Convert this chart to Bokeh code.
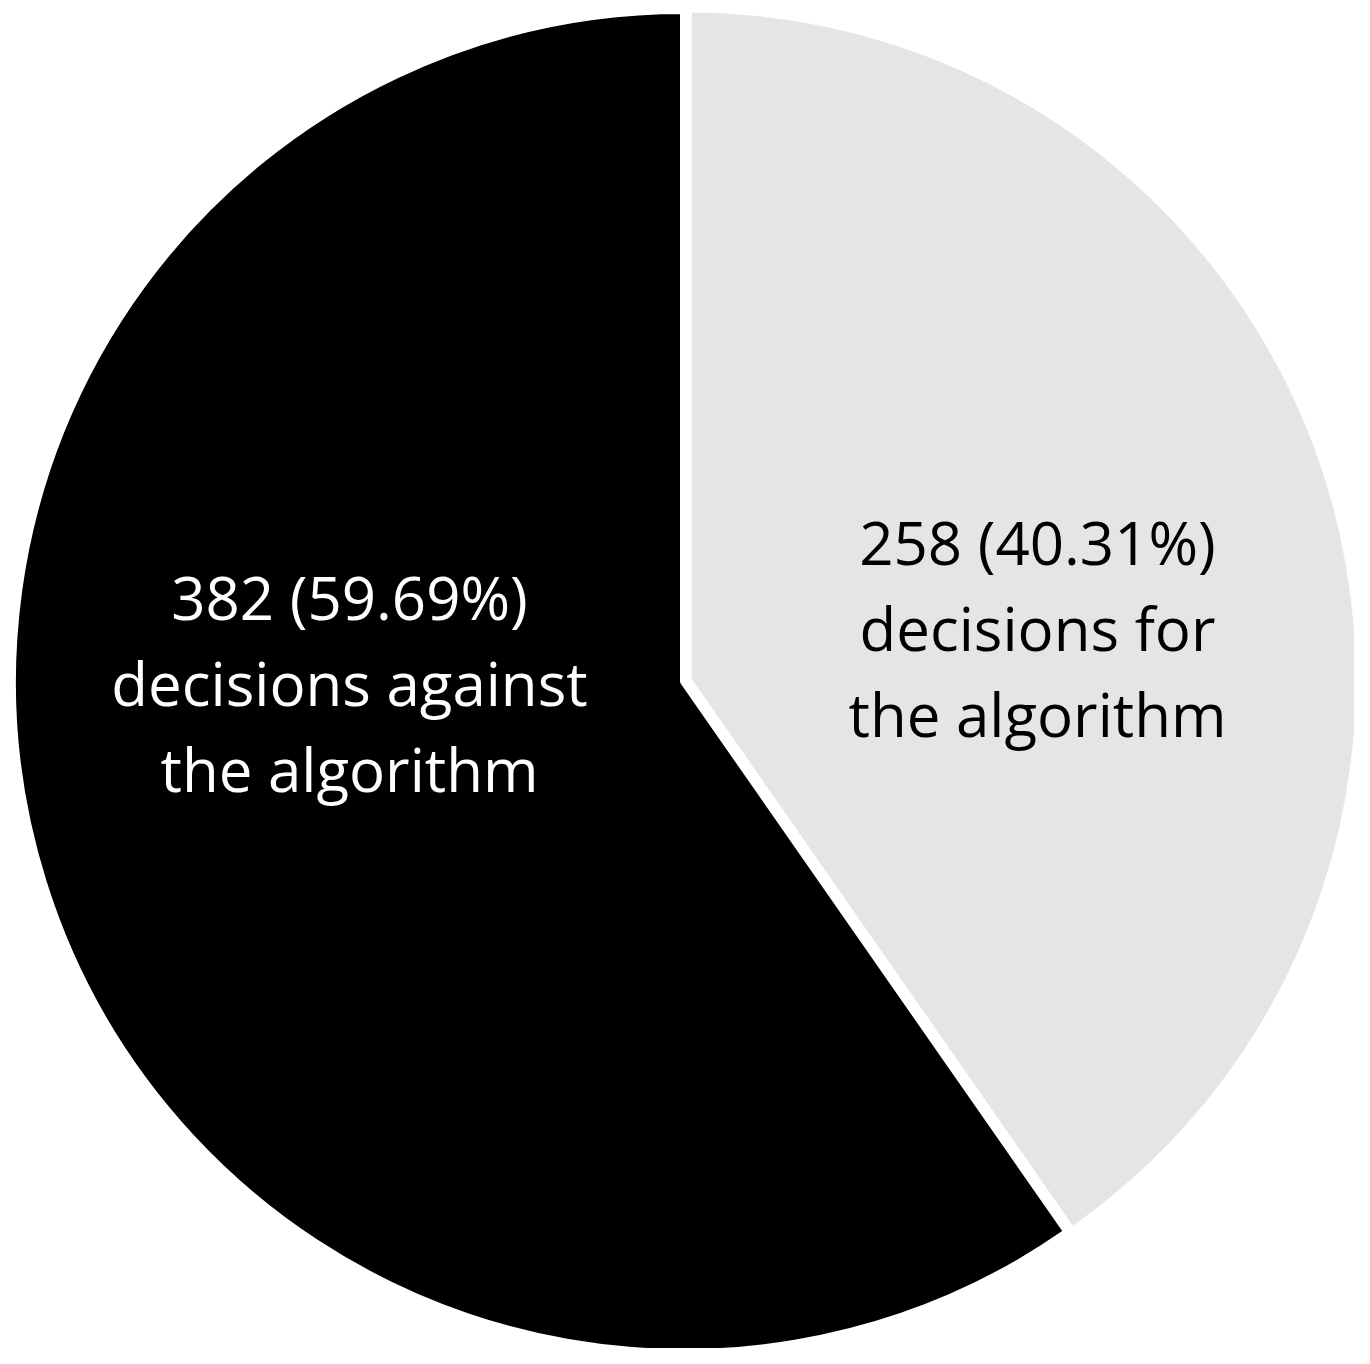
import math
from bokeh.plotting import figure
from bokeh.models import Range1d, ColumnDataSource
from bokeh.core.properties import value
from bokeh.embed import file_html
from bokeh.resources import INLINE

# ---- data ----
categories = ["decisions for the algorithm", "decisions against the algorithm"]
counts = [258, 382]
colors = ["#e5e5e5", "#000000"]
label_colors = ["#000000", "#ffffff"]

W, H = 1354, 1348
p = figure(width=W, height=H, output_backend="svg", toolbar_location=None,
           x_axis_location=None, y_axis_location=None,
           x_range=Range1d(0, W), y_range=Range1d(0, H), min_border=0,
           outline_line_color=None, background_fill_color="white",
           border_fill_color="white")
p.grid.visible = False

def to_data(px, py):
    # screenshot pixel -> data coordinates
    return px, H - py

cx, cy = to_data(683, 681)
R = 671
explode = [5, 0]

total = sum(counts)
start = math.pi / 2  # start at 12 o'clock, go clockwise
angles = []
for c in counts:
    sweep = 2 * math.pi * c / total
    angles.append((start - sweep, start))
    start -= sweep

for i, (a0, a1) in enumerate(angles):
    mid = (a0 + a1) / 2
    ox = cx + explode[i] * math.cos(mid)
    oy = cy + explode[i] * math.sin(mid)
    p.wedge(x=[ox], y=[oy], radius=R, start_angle=a0, end_angle=a1,
            fill_color=colors[i], line_color="white", line_width=7)

# label anchor positions (screen px: center x, first baseline y)
label_pos = [(1037, 541), (349, 596)]
line_gap = 86
for i, c in enumerate(counts):
    pct = 100.0 * c / total
    words = categories[i].split(" ")
    lines = [f"{c} ({pct:.2f}%)", " ".join(words[:2]), " ".join(words[2:])]
    xs, ys = [], []
    for j, ln in enumerate(lines):
        x, y = to_data(label_pos[i][0], label_pos[i][1] + j * line_gap)
        xs.append(x)
        ys.append(y)
    src = ColumnDataSource(dict(x=xs, y=ys, t=lines))
    p.text(x="x", y="y", text="t", source=src, text_align="center",
           text_baseline="alphabetic", text_font=value("Open Sans"),
           text_font_size="60px", text_color=label_colors[i])

open("out.html", "w").write(file_html(p, INLINE))
